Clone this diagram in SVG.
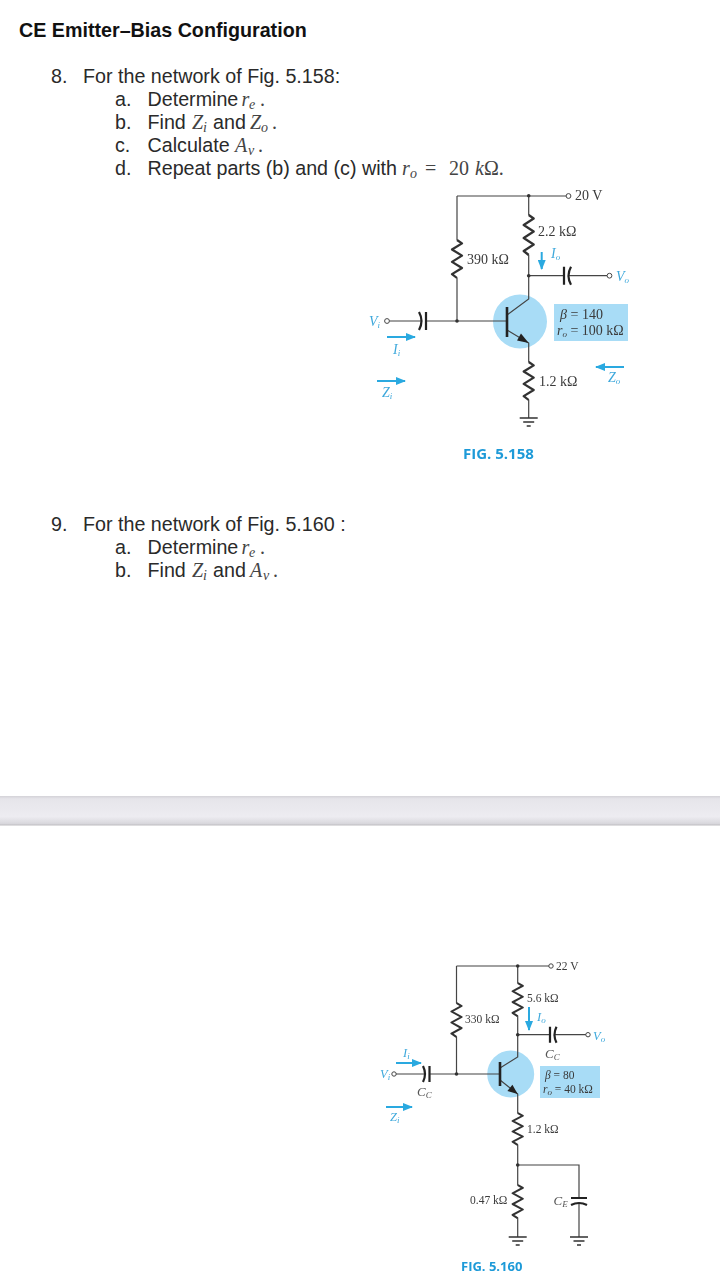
<svg xmlns="http://www.w3.org/2000/svg" width="720" height="1280" viewBox="0 0 720 1280">
<style>
.t{font-family:"Liberation Sans",Arial,sans-serif;font-size:19.7px;fill:#2a2a2a}
.h{font-family:"Liberation Sans",Arial,sans-serif;font-size:19.7px;font-weight:700;fill:#111}
.m{font-family:"Liberation Serif","Times New Roman",serif;font-size:20px;font-style:italic;fill:#444}
.mn{font-family:"Liberation Serif","Times New Roman",serif;font-size:20px;fill:#444}
.s{font-size:14px}
.l{font-family:"Liberation Serif","Times New Roman",serif;font-size:14px;fill:#3a3a3a}
.l2{font-family:"Liberation Serif","Times New Roman",serif;font-size:11.5px;fill:#3a3a3a}
.b{font-family:"Liberation Serif","Times New Roman",serif;font-size:14px;font-style:italic;fill:#3fa9dc}
.b2{font-family:"Liberation Serif","Times New Roman",serif;font-size:12.5px;font-style:italic;fill:#3fa9dc}
.g{font-family:"Liberation Serif","Times New Roman",serif;font-size:13px;font-style:italic;fill:#555}
.sub{font-size:9px}
.fig{font-family:"Open Sans","Liberation Sans",sans-serif;font-size:15px;font-weight:700;fill:#1f9ad8}
.fig2{font-family:"Open Sans","Liberation Sans",sans-serif;font-size:13px;font-weight:700;fill:#1f9ad8}
.w{fill:none;stroke:#444;stroke-width:1.2}
.r{fill:none;stroke:#333;stroke-width:2.300;stroke-linejoin:round}
.bar{stroke:#222;stroke-width:2.6;fill:none}
.cap{stroke:#222;stroke-width:2.2;fill:none}
.open{fill:#fff;stroke:#444;stroke-width:1}
.dot{fill:#333}
.ar{fill:none;stroke:#29a9e0;stroke-width:2;marker-end:url(#ah)}
.gnd{fill:none;stroke:#333;stroke-width:1.5}
</style>
<defs>
<marker id="ah" markerWidth="10" markerHeight="8" refX="9" refY="4" orient="auto" markerUnits="userSpaceOnUse"><path d="M0 0L10 4L0 8z" fill="#29a9e0"/></marker>
<linearGradient id="band" x1="0" y1="0" x2="0" y2="1">
<stop offset="0" stop-color="#d4d2d8"/><stop offset=".1" stop-color="#e6e5ea"/><stop offset=".7" stop-color="#edecf1"/><stop offset=".93" stop-color="#d9d8dd"/><stop offset="1" stop-color="#bdbcc0"/>
</linearGradient>
<path id="res" class="r" d="M0 0L5 3.500L-5 10L5 16.500L-5 23L5 29.500L-5 36L0 40"/>
<g id="ground"><path class="gnd" d="M-9 0H9M-5.5 4H5.5M-2 8H2"/></g>
<filter id="soft" x="-5%" y="-5%" width="110%" height="110%"><feGaussianBlur stdDeviation="0.35"/></filter>
</defs>
<rect width="720" height="1280" fill="#fff"/>
<g id="divider"><rect x="0" y="796" width="720" height="29.500" fill="url(#band)"/></g>

<g id="question-8">
<text class="h" x="19" y="36.500">CE Emitter–Bias Configuration</text>
<text class="t" x="51" y="83">8.</text><text class="t" x="83" y="83">For the network of Fig. 5.158:</text>
<text class="t" x="115" y="106">a.</text><text class="t" x="147.500" y="106">Determine</text>
<text class="m" x="241.500" y="106">r</text><text class="m s" x="249" y="109">e</text><text class="mn" x="260" y="106">.</text>
<text class="t" x="115" y="129">b.</text><text class="t" x="147.500" y="129">Find</text>
<text class="m" x="192" y="129">Z</text><text class="m s" x="203" y="132">i</text><text class="t" x="213" y="129">and</text>
<text class="m" x="250" y="129">Z</text><text class="m s" x="261" y="132">o</text><text class="mn" x="272" y="129">.</text>
<text class="t" x="115" y="152">c.</text><text class="t" x="147.500" y="152">Calculate</text>
<text class="m" x="235" y="152">A</text><text class="m s" x="248" y="155">v</text><text class="mn" x="258" y="152">.</text>
<text class="t" x="115" y="175">d.</text><text class="t" x="147.500" y="175">Repeat parts (b) and (c) with</text>
<text class="m" x="402" y="175">r</text><text class="m s" x="410" y="178">o</text>
<text class="mn" x="425" y="175">=</text><text class="mn" x="449" y="175">20</text>
<text class="m" x="475" y="175">k<tspan font-style="normal">Ω.</tspan></text>
</g>
<g id="question-9">
<text class="t" x="51" y="531">9.</text><text class="t" x="83" y="531">For the network of Fig. 5.160 :</text>
<text class="t" x="115" y="554">a.</text><text class="t" x="147.500" y="554">Determine</text>
<text class="m" x="241.500" y="554">r</text><text class="m s" x="249" y="557">e</text><text class="mn" x="260" y="554">.</text>
<text class="t" x="115" y="577">b.</text><text class="t" x="147.500" y="577">Find</text>
<text class="m" x="192" y="577">Z</text><text class="m s" x="203" y="580">i</text><text class="t" x="213" y="577">and</text>
<text class="m" x="250" y="577">A</text><text class="m s" x="263" y="580">v</text><text class="mn" x="273" y="577">.</text>
</g>

<g id="fig-5-158" filter="url(#soft)">
<g id="f158-transistor-bg"><circle cx="520" cy="321.500" r="27" fill="#a8dcf6"/></g>
<g id="f158-info"><rect x="554" y="304" width="74" height="37" fill="#a8dcf6"/>
<text class="l" x="560" y="319"><tspan font-style="italic">β</tspan> = 140</text>
<text class="l" x="557" y="335"><tspan font-style="italic">r</tspan><tspan class="sub" dy="2" font-style="italic">o</tspan><tspan dy="-2"> = 100 kΩ</tspan></text></g>
<g id="f158-connectors">
<path class="w" d="M457 196H566M457 196V240M457 278V321M389.500 321H421M426 321H507M528.700 196V215M528.700 255V299L507 315M507 330L528.700 343V362M528.700 400V418M528.700 275.700H564M569 275.700H607"/>
</g>
<g id="f158-r1"><use href="#res" transform="translate(457 240) scale(1 .95)"/><text class="l" x="467" y="264">390 kΩ</text></g>
<g id="f158-rc"><use href="#res" transform="translate(528.700 215)"/><text class="l" x="538" y="236">2.2 kΩ</text></g>
<g id="f158-re"><use href="#res" transform="translate(528.700 362) scale(1 .95)"/><text class="l" x="539" y="386">1.2 kΩ</text></g>
<g id="f158-q"><path class="bar" d="M507 307V337"/><path d="M528.700 343L517 340.500L521 333.500z" fill="#222"/></g>
<g id="f158-cin"><path class="cap" d="M419 312Q424 321 419 330M426 312V330"/></g>
<g id="f158-cout"><path class="cap" d="M564 266.700V284.700M571 266.700Q566 275.700 571 284.700"/></g>
<g id="f158-gnd"><use href="#ground" transform="translate(528.700 418)"/></g>
<g id="f158-terminals">
<circle class="dot" cx="528.700" cy="195.700" r="1.800"/><circle class="dot" cx="528.700" cy="275.700" r="1.800"/><circle class="dot" cx="457" cy="321" r="1.800"/>
<circle class="open" cx="568.500" cy="196" r="2.400"/><circle class="open" cx="609.500" cy="275.700" r="2.400"/><circle class="open" cx="387" cy="321" r="2.400"/>
<text class="l" x="575" y="200">20 V</text>
<text class="b" x="616" y="281">V<tspan class="sub" dy="2">o</tspan></text>
<text class="b" x="369" y="326">V<tspan class="sub" dy="2">i</tspan></text>
</g>
<g id="f158-arrows">
<path class="ar" d="M541.700 252V269"/><path class="ar" d="M387 337H415"/><path class="ar" d="M377 381H405"/><path class="ar" d="M624 367H596"/>
<text class="b" x="551" y="258">I<tspan class="sub" dy="2">o</tspan></text>
<text class="b" x="393" y="354">I<tspan class="sub" dy="2">i</tspan></text>
<text class="b" x="382" y="397">Z<tspan class="sub" dy="2">i</tspan></text>
<text class="b" x="608" y="382">Z<tspan class="sub" dy="2">o</tspan></text>
</g>
<text class="fig" x="463" y="459">FIG. 5.158</text>
</g>

<g id="fig-5-160" filter="url(#soft)">
<g id="f160-transistor-bg"><circle cx="510.700" cy="1074" r="23.500" fill="#a8dcf6"/></g>
<g id="f160-info"><rect x="540" y="1066" width="60" height="32" fill="#a8dcf6"/>
<text class="l2" x="545" y="1079"><tspan font-style="italic">β</tspan> = 80</text>
<text class="l2" x="543" y="1093"><tspan font-style="italic">r</tspan><tspan class="sub" dy="2" font-style="italic">o</tspan><tspan dy="-2"> = 40 kΩ</tspan></text></g>
<g id="f160-connectors">
<path class="w" d="M456.500 966H549M456.500 966V1003M456.500 1037V1074M396 1074H424M429 1074H500M517.700 966V983M517.700 1016V1057L500 1068M500 1080L517.700 1094V1113M517.700 1145V1185M517.700 1218V1237M517.700 1034.700H550M555 1034.700H586M517.700 1165H579V1198M579 1204V1237"/>
</g>
<g id="f160-r1"><use href="#res" transform="translate(456.500 1003) scale(1 .85)"/><text class="l2" x="465" y="1023">330 kΩ</text></g>
<g id="f160-rc"><use href="#res" transform="translate(517.700 983) scale(1 .83)"/><text class="l2" x="527" y="1002">5.6 kΩ</text></g>
<g id="f160-re1"><use href="#res" transform="translate(517.700 1113) scale(1 .8)"/><text class="l2" x="527" y="1133">1.2 kΩ</text></g>
<g id="f160-re2"><use href="#res" transform="translate(517.700 1185) scale(1 .83)"/><text class="l2" x="470" y="1204">0.47 kΩ</text></g>
<g id="f160-q"><path class="bar" d="M500 1062V1086"/><path d="M517.700 1094L507.400 1090.900L512.400 1084.700z" fill="#222"/></g>
<g id="f160-cin"><path class="cap" d="M423 1066Q427 1074 423 1082M429.500 1066V1082"/><text class="g" x="417" y="1096">C<tspan class="sub" dy="2">C</tspan></text></g>
<g id="f160-cout"><path class="cap" d="M550 1026.700V1042.700M556.500 1026.700Q552.500 1034.700 556.500 1042.700"/><text class="g" x="545" y="1058">C<tspan class="sub" dy="2">C</tspan></text></g>
<g id="f160-ce"><path class="cap" d="M571 1198H587M571 1205Q579 1201 587 1205"/><text class="g" x="553.500" y="1205">C<tspan class="sub" dy="2">E</tspan></text></g>
<g id="f160-gnd1"><use href="#ground" transform="translate(517.700 1237)"/></g>
<g id="f160-gnd2"><use href="#ground" transform="translate(579 1237)"/></g>
<g id="f160-terminals">
<circle class="dot" cx="517.700" cy="966" r="1.800"/><circle class="dot" cx="517.700" cy="1034.700" r="1.800"/><circle class="dot" cx="456.500" cy="1074" r="1.800"/><circle class="dot" cx="517.700" cy="1165" r="1.800"/>
<circle class="open" cx="551" cy="966" r="2.200"/><circle class="open" cx="588" cy="1034.700" r="2.200"/><circle class="open" cx="394" cy="1074" r="2.200"/>
<text class="l2" x="556" y="970">22 V</text>
<text class="b2" x="593" y="1040">V<tspan class="sub" dy="2">o</tspan></text>
<text class="b2" x="380" y="1078">V<tspan class="sub" dy="2">i</tspan></text>
</g>
<g id="f160-arrows">
<path class="ar" d="M529 1007V1030"/><path class="ar" d="M396 1063H421"/><path class="ar" d="M386 1107H412"/>
<text class="b2" x="537" y="1021">I<tspan class="sub" dy="2">o</tspan></text>
<text class="b2" x="403" y="1057">I<tspan class="sub" dy="2">i</tspan></text>
<text class="b2" x="390" y="1121">Z<tspan class="sub" dy="2">i</tspan></text>
</g>
<text class="fig2" x="461" y="1271">FIG. 5.160</text>
</g>
</svg>
